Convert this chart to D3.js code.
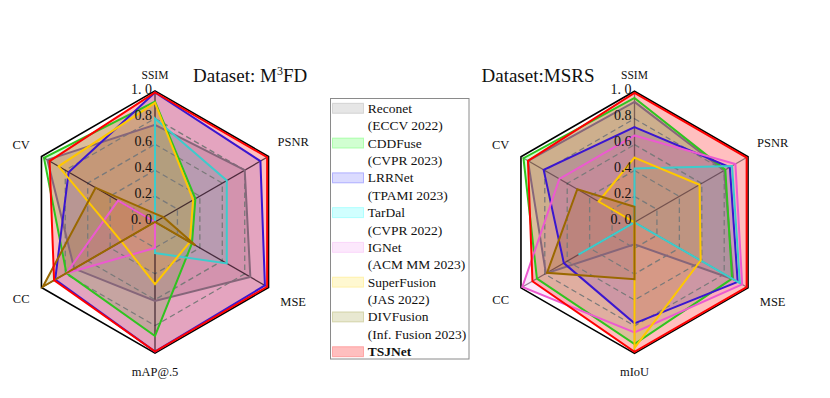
<!DOCTYPE html>
<html>
<head>
<meta charset="utf-8">
<script src="https://cdn.jsdelivr.net/npm/d3@7"></script>
<style>
body { margin: 0; background: #fff; }
svg { display: block; font-family: "Liberation Serif", "Times New Roman", serif; }
</style>
</head>
<body>
<div class="chart"></div>
<script>
const width = 830, height = 398;

const methods = ["Reconet", "CDDFuse", "LRRNet", "TarDal", "IGNet", "SuperFusion", "DIVFusion", "TSJNet"];
const venues = ["(ECCV 2022)", "(CVPR 2023)", "(TPAMI 2023)", "(CVPR 2022)", "(ACM MM 2023)", "(JAS 2022)", "(Inf. Fusion 2023)", ""];
const fillColors = ["#808080", "#00ff00", "#0000ff", "#00ffff", "#ee82ee", "#ffd700", "#808000", "#ff0000"];
const lineColors = ["#86667a", "#2fc41f", "#3a16d0", "#3ccccc", "#ec5ad0", "#ffc800", "#9a6800", "#ff0000"];
const fillAlpha = [0.2, 0.18, 0.14, 0.18, 0.18, 0.18, 0.18, 0.25];

const axesM3FD = ["SSIM", "PSNR", "MSE", "mAP@.5", "CC", "CV"];
const axesMSRS = ["SSIM", "PSNR", "MSE", "mIoU", "CC", "CV"];

// one row per method, columns follow the axes order
const valuesM3FD = [
    [0.75, 0.80, 0.85, 0.61, 0.72, 0.96],
    [0.93, 0.36, 0.33, 0.88, 0.79, 0.99],
    [1.00, 0.94, 0.98, 1.00, 0.89, 0.77],
    [0.80, 0.64, 0.64, 0.24, 0.00, 0.00],
    [0.00, 0.00, 0.00, 0.20, 0.79, 0.33],
    [0.92, 0.34, 0.31, 0.48, 0.30, 0.86],
    [0.065, 0.075, 0.36, 0.00, 1.00, 0.53],
    [1.00, 1.00, 1.00, 1.00, 0.90, 0.94]
];
const valuesMSRS = [
    [0.93, 0.80, 0.88, 0.17, 0.79, 0.95],
    [0.96, 0.81, 0.87, 0.94, 0.87, 0.99],
    [0.735, 0.85, 0.92, 0.78, 0.63, 0.81],
    [0.415, 0.87, 0.94, 0.00, 0.50, 0.00],
    [0.67, 0.90, 0.96, 0.85, 1.00, 0.67],
    [0.50, 0.58, 0.59, 0.97, 0.00, 0.32],
    [0.12, 0.00, 0.00, 0.44, 0.78, 0.51],
    [1.00, 1.00, 1.00, 1.00, 0.91, 0.95]
];

const tickValues = [0, 0.2, 0.4, 0.6, 0.8, 1.0];
const tickLabels = ["0. 0", "0.2", "0.4", "0.6", "0.8", "1. 0"];
const gridValues = [0.2, 0.4, 0.6, 0.8];

const R = 129.5;
const labelR = [147, 159.5, 159.5, 150, 154.5, 154.5];

const svg = d3.select(".chart").append("svg")
    .attr("width", width)
    .attr("height", height);

svg.append("rect").attr("width", width).attr("height", height).attr("fill", "#fff");

function drawRadar(cx, cy, axes, values, spokeAlpha){
    const g = svg.append("g").attr("transform", `translate(${cx},${cy})`);
    const r = d3.scaleLinear().domain([0, 1]).range([0, R]);
    const ang = d3.scalePoint().domain(axes).range([0, Math.PI * 5 / 3]);
    const radial = d3.lineRadial()
        .angle((d, i) => ang(axes[i]))
        .radius(d => r(d))
        .curve(d3.curveLinearClosed);

    // filled areas
    g.selectAll("path.area").data(values).join("path")
        .attr("class", "area")
        .attr("d", radial)
        .attr("fill", (d, i) => fillColors[i])
        .attr("fill-opacity", (d, i) => fillAlpha[i])
        .attr("stroke", "none");

    // dashed rings
    g.selectAll("path.grid").data(gridValues).join("path")
        .attr("class", "grid")
        .attr("d", v => radial(axes.map(() => v)))
        .attr("fill", "none")
        .attr("stroke", "#7a7a7a")
        .attr("stroke-width", 1.3)
        .attr("stroke-dasharray", "5.5,3.5");

    // spokes
    g.selectAll("line.spoke").data(axes).join("line")
        .attr("class", "spoke")
        .attr("x1", 0).attr("y1", 0)
        .attr("x2", a => d3.pointRadial(ang(a), r(1))[0])
        .attr("y2", a => d3.pointRadial(ang(a), r(1))[1])
        .attr("stroke", "#1a0010")
        .attr("stroke-opacity", spokeAlpha)
        .attr("stroke-width", 1.3);

    // outer frame
    const frame = d3.lineRadial()
        .angle((d, i) => ang(axes[i]))
        .radius(R + 1.6)
        .curve(d3.curveLinearClosed);
    g.append("path")
        .attr("d", frame(axes))
        .attr("fill", "none")
        .attr("stroke", "#000")
        .attr("stroke-width", 1.6);

    // series outlines
    g.selectAll("path.line").data(values).join("path")
        .attr("class", "line")
        .attr("d", radial)
        .attr("fill", "none")
        .attr("stroke", (d, i) => lineColors[i])
        .attr("stroke-width", 2)
        .attr("stroke-linejoin", "miter");

    // radial tick labels
    g.selectAll("text.tick").data(tickValues).join("text")
        .attr("class", "tick")
        .attr("x", -3)
        .attr("y", v => -r(v) + 1.5)
        .attr("text-anchor", "end")
        .attr("font-size", 14)
        .attr("fill", "#111")
        .text((v, i) => tickLabels[i]);

    // axis names
    g.selectAll("text.axis").data(axes).join("text")
        .attr("class", "axis")
        .attr("x", (a, i) => d3.pointRadial(ang(a), labelR[i])[0])
        .attr("y", (a, i) => d3.pointRadial(ang(a), labelR[i])[1])
        .attr("text-anchor", "middle")
        .attr("dominant-baseline", "central")
        .attr("font-size", (a, i) => i === 0 ? 11.5 : 12.5)
        .attr("fill", "#111")
        .text(a => a);
}

drawRadar(155, 222, axesM3FD, valuesM3FD, 0.72);
drawRadar(634.5, 222.3, axesMSRS, valuesMSRS, 0.45);

// titles
const t1 = svg.append("text").attr("x", 193).attr("y", 82).attr("font-size", 19).attr("fill", "#111");
t1.append("tspan").text("Dataset: M");
t1.append("tspan").attr("dy", -7).attr("font-size", 12).text("3");
t1.append("tspan").attr("dy", 7).text("FD");

svg.append("text").attr("x", 481.5).attr("y", 82).attr("font-size", 19).attr("fill", "#111")
    .text("Dataset:MSRS");

// legend
const lg = svg.append("g");
lg.append("rect")
    .attr("x", 330.5).attr("y", 98.5)
    .attr("width", 138.5).attr("height", 260.5)
    .attr("fill", "#fff")
    .attr("stroke", "#8a8a8a")
    .attr("stroke-width", 1);

const rowY = d3.scaleLinear().domain([0, methods.length - 1]).range([108.3, 351.7]);

methods.forEach((m, i) => {
    const y = rowY(i);
    lg.append("rect")
        .attr("x", 332.5).attr("y", y - 5)
        .attr("width", 31).attr("height", 10)
        .attr("fill", fillColors[i]).attr("fill-opacity", fillAlpha[i])
        .attr("stroke", fillColors[i]).attr("stroke-opacity", 0.25);
    lg.append("text")
        .attr("x", 367.7).attr("y", y + 4.5)
        .attr("font-size", 13.5)
        .attr("font-weight", m === "TSJNet" ? "bold" : "normal")
        .attr("fill", "#111")
        .text(m);
    if (venues[i]) {
        lg.append("text")
            .attr("x", 367.7).attr("y", y + 17.4 + 4.5)
            .attr("font-size", 13.5)
            .attr("fill", "#111")
            .text(venues[i]);
    }
});
</script>
</body>
</html>
